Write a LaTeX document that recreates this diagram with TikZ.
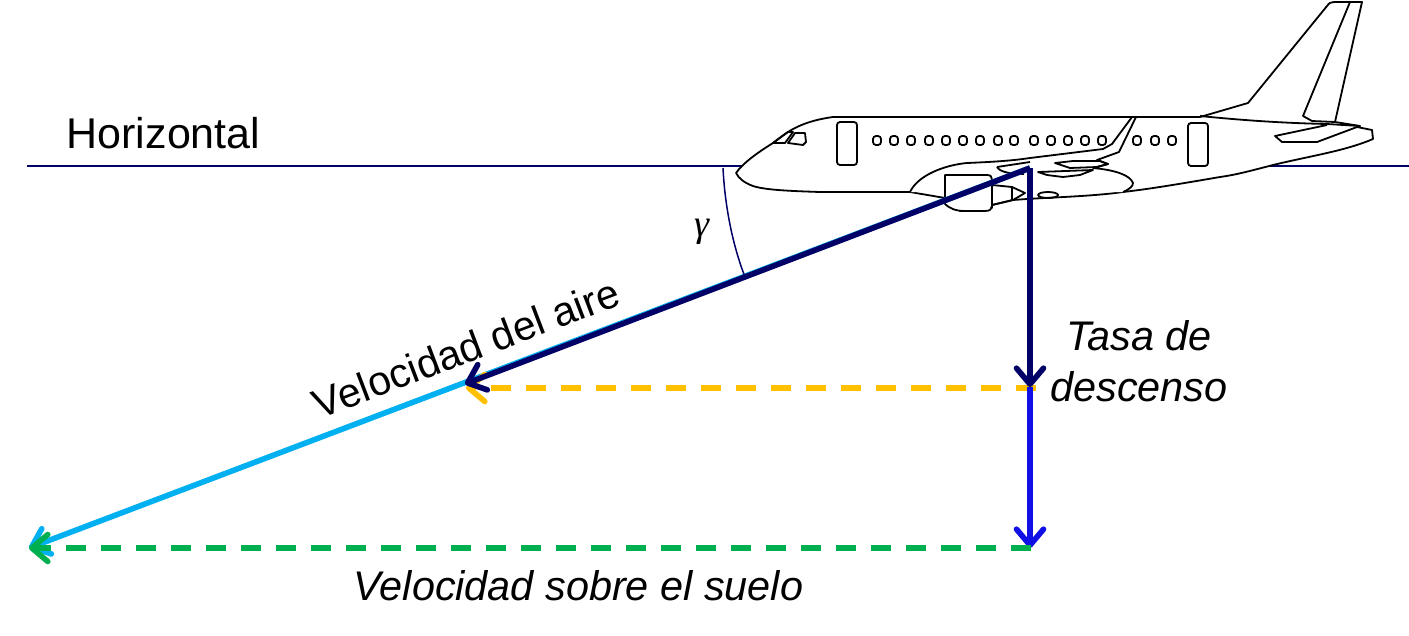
\documentclass[tikz,border=0pt]{standalone}
\usepackage{fontspec}
\setmainfont{Liberation Sans}
\newfontfamily\gammafont{Liberation Serif}
\usetikzlibrary{arrows.meta}
\definecolor{navyvec}{HTML}{000066}
\definecolor{bluevec}{HTML}{0F0FE6}
\definecolor{skyvec}{HTML}{00B0F0}
\definecolor{orangevec}{HTML}{FFC000}
\definecolor{greenvec}{HTML}{00B050}
\tikzstyle{vector} = [line width=5.6pt, -{Straight Barb[length=16pt,width=27pt,line width=5.6pt,round]}]
\tikzstyle{component} = [line width=5.2pt, dash pattern=on 20pt off 15pt, -{Straight Barb[length=16pt,width=27pt,line width=5.6pt,round]}]
\tikzstyle{outline} = [draw=black, line width=1.8pt, line join=round]
\tikzstyle{cabinwindow} = [draw=black, line width=1.8pt, rounded corners=3pt, minimum width=8pt, minimum height=9pt, inner sep=0pt]
\tikzstyle{cabindoor} = [draw=black, line width=1.8pt, rounded corners=3pt, minimum width=20pt, minimum height=43pt, inner sep=0pt]
\tikzstyle{label} = [inner sep=0pt, text=black, font=\fontsize{41.4}{51}\selectfont]
\newcommand{\slanted}[1]{\itshape #1}

\begin{document}
\begin{tikzpicture}[x=1pt,y=-1pt]
\useasboundingbox (0,0) rectangle (1409,635);
% reference points
\coordinate (horizleft) at (27,166);
\coordinate (horizright) at (1409,166);
\coordinate (apex) at (1030,168);
\coordinate (airtip) at (465,384);
\coordinate (groundtip) at (29,548);
\coordinate (sinktip) at (1030,387);
\coordinate (droptip) at (1030,548);
\coordinate (orangestart) at (1036,388);
\coordinate (orangetip) at (466,388);
\coordinate (greenstart) at (1031,548);
\coordinate (arcstart) at (723,168);
\coordinate (arcend) at (745,277);

\draw[navyvec, line width=1.7pt] (horizleft) -- (horizright);

% fuselage and fin
\path[outline, fill=white] (736,173) .. controls (743,163) and (757,153) .. (773,143)
    .. controls (785,134) and (797,122) .. (833,117) -- (1200,117)
    -- (1248,103) -- (1327,6) .. controls (1329,3) and (1331,2) .. (1334,2) -- (1362,2)
    -- (1335,122) -- (1360,126) -- (1357,127) -- (1372,130) -- (1373,139)
    .. controls (1345,151) and (1310,156) .. (1273,165)
    .. controls (1250,171) and (1235,175) .. (1220,177)
    .. controls (1185,183) and (1150,189) .. (1123,192)
    .. controls (1095,196) and (1060,197) .. (1027,199) -- (1013,200) -- (992,205)
    -- (992,208) -- (960,211) -- (945,198) -- (910,192) -- (820,192)
    .. controls (790,191) and (765,190) .. (753,186)
    .. controls (745,183) and (739,179) .. (736,173) -- cycle;
\draw[outline] (1200,116) .. controls (1240,120) and (1280,123) .. (1327,124) -- (1360,126);
\draw[outline] (1350,2) -- (1303,116) -- (1312,121) -- (1335,122);
\draw[outline] (1327,125) -- (1275,136) -- (1282,142) -- (1317,142) -- (1357,127);

% cockpit
\draw[outline] (773,143) -- (788,132) -- (793,132) -- (785,143) -- cycle;
\draw[outline] (788,143) -- (795,133) -- (805,133) -- (806,142) -- (803,145) -- cycle;

% doors and windows
\node[cabindoor] (frontdoor) at (847,143.5) {};
\node[cabindoor] (reardoor) at (1198,144.5) {};
\foreach \xpos/\wname in {877/a,894/b,911/c,929/d,946/e,963/f,980/g,998/h,1014/i,1034/j,1051/k,1068/l,1085/m,1102/n,1137/o,1155/p,1172/q}
    \node[cabinwindow] (window\wname) at (\xpos,140.5) {};

% wing and fairing
\draw[outline, fill=white] (910,192) .. controls (918,175) and (945,165) .. (967,163)
    .. controls (990,162) and (1010,161) .. (1030,158) -- (1103,149) -- (1112,144) -- (1132,117) -- (1136,117) -- (1119,152) -- (1097,160)
    -- (1108,164) -- (1093,168) .. controls (1115,170) and (1130,175) .. (1133,183)
    .. controls (1133,186) and (1130,189) .. (1123,192);
\draw[outline] (997,167) .. controls (1000,172) and (1010,174) .. (1024,174);
\draw[outline] (997,167) -- (1030,162);
\draw[outline] (1055,163) -- (1073,161) -- (1100,161) -- (1108,164) -- (1097,167) -- (1070,168) -- cycle;
\draw[outline, fill=white] (1038,172) -- (1093,170) -- (1080,175) -- (1063,177) -- (1047,175) -- cycle;

% engine
\draw[outline, fill=white] (945,198) -- (945,175) -- (987,175) .. controls (991,175) and (992,177) .. (992,180)
    -- (992,206) .. controls (992,209) and (990,211) .. (985,211) -- (965,211) .. controls (955,211) and (949,208) .. (945,204) -- cycle;
\draw[outline] (992,185) -- (1012,187) -- (1025,193) -- (1013,200) -- (992,205);
\draw[outline] (1012,187) -- (1012,201);
\draw[outline] (1048,195) ellipse (10 and 3);

% vectors
\draw[skyvec, vector] (apex) -- (groundtip);
\draw[orangevec, component] (orangestart) -- (orangetip);
\draw[navyvec, vector] (apex) -- (airtip);
\draw[bluevec, vector] (sinktip) -- (droptip);
\draw[navyvec, vector] (apex) -- (sinktip);
\draw[greenvec, component] (greenstart) -- (groundtip);
\draw[navyvec, line width=1.5pt] (arcstart) .. controls (725,208) and (733,246) .. (arcend);

% labels
\node[label, font=\fontsize{43}{51}\selectfont] (horizontal) at (163.5,133) {Horizontal};
\node[label, font=\fontsize{41}{51}\selectfont, rotate=20.8] (airspeed) at (466,348) {Velocidad del aire};
\node[label, align=center] (sinkrate) at (1139,361) {\slanted{Tasa de}\\ \slanted{descenso}};
\node[label] (groundspeed) at (578.5,586) {\slanted{Velocidad sobre el suelo}};
\node[label, font=\fontsize{38}{40}\gammafont\itshape] (gammaangle) at (702,232) {γ};
\end{tikzpicture}
\end{document}
